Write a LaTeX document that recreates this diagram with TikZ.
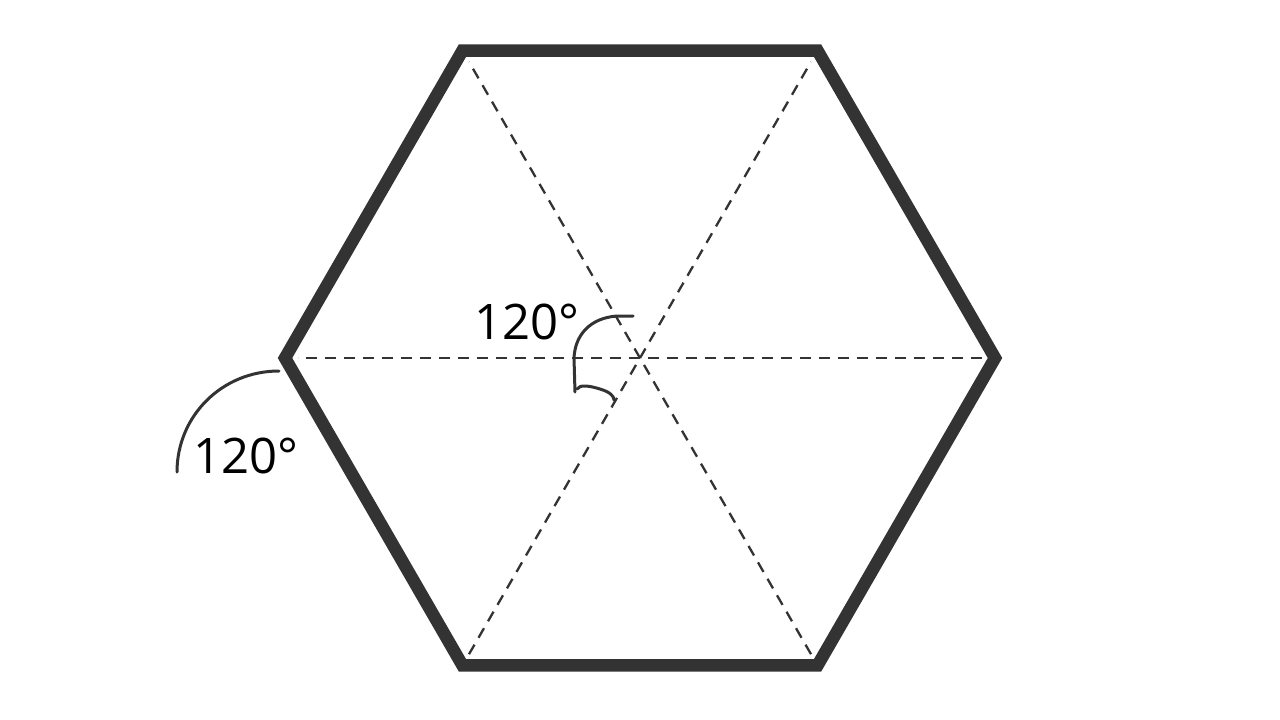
\documentclass[tikz,border=0pt]{standalone}
\usepackage{fontspec}
\setmainfont{Open Sans}
\usetikzlibrary{calc}
\definecolor{hexgray}{HTML}{333333}
\tikzset{
  hexline/.style={line width=12.5pt, draw=hexgray, line join=miter},
  diag/.style={line width=2.3pt, draw=hexgray, dash pattern=on 11pt off 8pt},
  anglemark/.style={line width=3pt, draw=hexgray, line cap=round, line join=round},
  anglelabel/.style={font=\fontsize{49}{52}\selectfont, text=black, inner sep=0pt}
}
\begin{document}
\begin{tikzpicture}[x=1pt,y=-1pt]
\useasboundingbox[fill=white] (0,0) rectangle (1280,720);
\coordinate (c) at (640,358);
\foreach \i in {0,...,5} {
  \coordinate (v\i) at ($(c)+(\i*60:355)$);
  \coordinate (d\i) at ($(c)+(\i*60:342)$);
}
\draw[hexline] (v0)--(v1)--(v2)--(v3)--(v4)--(v5)--cycle;
\draw[diag] (d0) -- (d3);
\draw[diag] (d1) -- (d4);
\draw[diag] (d2) -- (d5);
% left exterior angle mark
\coordinate (la) at (279,371);
\coordinate (lb) at (177,472);
\draw[anglemark] (la) .. controls (222,371) and (177,416) .. (lb);
\node[anglelabel] (l1) at (246,456) {120°};
% centre angle mark
\coordinate (ca) at (633,316);
\coordinate (cb) at (575,392);
\coordinate (cc) at (577,389);
\coordinate (cd) at (614,400);
\draw[anglemark] (ca) -- (617,316) .. controls (590,318) and (575,335) .. (574,358) -- (cb);
\draw[anglemark] (cc) .. controls (580,384) and (590,386) .. (600,389) .. controls (610,392) and (614,396) .. (cd);
\node[anglelabel] (l2) at (527,322) {120°};
\end{tikzpicture}
\end{document}
